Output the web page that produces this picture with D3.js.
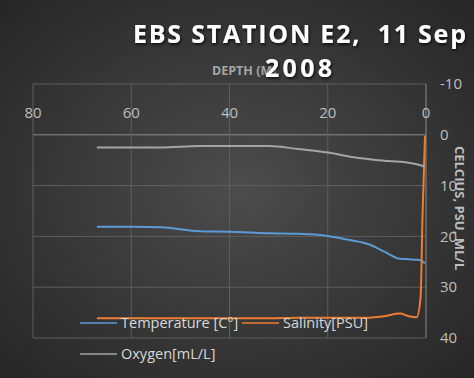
<!DOCTYPE html>
<html>
<head>
<meta charset="utf-8">
<script src="https://cdn.jsdelivr.net/npm/d3@7"></script>
<style>
  body { margin: 0; background: #2b2b2b; }
  svg { display: block; }
</style>
</head>
<body>
<svg width="474" height="378"></svg>
<script>
// depth (m) at each sample, shared by the three series
const depth = [67, 60, 54, 46, 40, 32, 26, 20, 15.5, 11.5, 8.5, 5.3, 3.5, 1.9, 1.1, 0.7, 0.2];
const temperature = [18.1, 18.1, 18.2, 19.0, 19.1, 19.4, 19.5, 19.9, 20.7, 21.6, 23.0, 24.4, 24.5, 24.6, 24.7, 24.9, 25.3];
const salinity = [36.1, 36.1, 36.1, 36.1, 36.1, 36.1, 36.0, 36.0, 36.0, 36.0, 35.7, 35.2, 35.7, 35.9, 32.0, 15.6, 0.2];
const oxygen = [2.5, 2.5, 2.5, 2.2, 2.2, 2.2, 2.8, 3.5, 4.3, 4.8, 5.1, 5.3, 5.5, 5.8, 6.0, 6.1, 6.4];
const depthTicks = [80, 60, 40, 20, 0];
const valueTicks = [-10, 0, 10, 20, 30, 40];
const seriesNames = ["Temperature [C°]", "Salinity[PSU]", "Oxygen[mL/L]"];
const seriesColors = ["#5b9bd5", "#ed7d31", "#a5a5a5"];

const svg = d3.select("svg"),
  width = +svg.attr("width"),
  height = +svg.attr("height");

const defs = svg.append("defs");
const bg = defs.append("radialGradient").attr("id", "bg")
  .attr("cx", "50%").attr("cy", "50%").attr("r", "70%");
bg.append("stop").attr("offset", "0%").attr("stop-color", "#4c4c4c");
bg.append("stop").attr("offset", "100%").attr("stop-color", "#262626");

const shadow = defs.append("filter").attr("id", "shadow")
  .attr("x", "-10%").attr("y", "-30%").attr("width", "120%").attr("height", "160%");
shadow.append("feDropShadow").attr("dx", 1).attr("dy", 1.5)
  .attr("stdDeviation", 1.5).attr("flood-color", "#000").attr("flood-opacity", 0.8);

svg.append("rect").attr("width", width).attr("height", height).attr("fill", "url(#bg)");

const x = d3.scaleLinear().domain([80, 0]).range([33, 426]);
const y = d3.scaleLinear().domain([-10, 40]).range([84, 338]);

// grid
svg.append("g").selectAll("line").data(valueTicks).enter().append("line")
  .attr("x1", x(80)).attr("x2", x(0))
  .attr("y1", d => y(d)).attr("y2", d => y(d))
  .attr("stroke", d => d === 0 ? "#8c8c8c" : "#5e5e5e").attr("stroke-width", 1);

svg.append("g").selectAll("line").data(depthTicks).enter().append("line")
  .attr("x1", d => x(d)).attr("x2", d => x(d))
  .attr("y1", y(-10)).attr("y2", y(40))
  .attr("stroke", d => d === 0 ? "#8c8c8c" : "#5e5e5e").attr("stroke-width", 1);

// tick labels
svg.append("g").selectAll("text").data(depthTicks).enter().append("text")
  .attr("x", d => x(d)).attr("y", 113).attr("dy", "0.35em")
  .attr("text-anchor", "middle")
  .attr("font-family", "Open Sans").attr("font-size", 15)
  .attr("fill", "#bfbfbf").text(d => d);

svg.append("g").selectAll("text").data(valueTicks).enter().append("text")
  .attr("x", 440).attr("y", d => y(d)).attr("dy", "0.35em")
  .attr("font-family", "Open Sans").attr("font-size", 15)
  .attr("fill", "#bfbfbf").text(d => d);

// lines
const allSeries = [temperature, salinity, oxygen];
const line = d3.line()
  .x(d => x(d[0]))
  .y(d => y(d[1]))
  .curve(d3.curveMonotoneX);

allSeries.forEach(function (vals, i) {
  svg.append("path")
    .datum(depth.map((dp, j) => [dp, vals[j]]))
    .attr("d", line)
    .attr("fill", "none")
    .attr("stroke", seriesColors[i])
    .attr("stroke-width", 2);
});

// axis titles
svg.append("text")
  .attr("x", 212).attr("y", 75)
  .attr("font-family", "Open Sans").attr("font-weight", "bold").attr("font-size", 12.5)
  .attr("fill", "#a6a6a6").text("DEPTH (M)");

svg.append("text")
  .attr("transform", "translate(455,208)rotate(90)")
  .attr("text-anchor", "middle")
  .attr("font-family", "Open Sans").attr("font-weight", "bold").attr("font-size", 13)
  .attr("fill", "#bfbfbf").text("CELCIUS, PSU, ML/L");

// title
const title = svg.append("g").attr("filter", "url(#shadow)")
  .attr("font-family", "Open Sans").attr("font-weight", "bold").attr("fill", "#ffffff");
title.append("text").attr("x", 133).attr("y", 43)
  .attr("font-size", 25).attr("textLength", 333).attr("lengthAdjust", "spacing")
  .attr("xml:space", "preserve")
  .text("EBS STATION E2,  11 Sep");
title.append("text").attr("x", 265).attr("y", 77)
  .attr("font-size", 25).attr("textLength", 67).attr("lengthAdjust", "spacing")
  .text("2008");

// legend
const legendPos = [[80, 323], [242, 323], [80, 354]];
const legend = svg.append("g").selectAll("g").data(seriesNames).enter().append("g")
  .attr("transform", (d, i) => "translate(" + legendPos[i][0] + "," + legendPos[i][1] + ")");
legend.append("line").attr("x1", 0).attr("x2", 37)
  .attr("stroke", (d, i) => seriesColors[i]).attr("stroke-width", 1.5);
legend.append("text").attr("x", 41).attr("dy", "0.35em")
  .attr("font-family", "Open Sans").attr("font-size", 14.5)
  .attr("fill", "#d9d9d9").text(d => d);
</script>
</body>
</html>
